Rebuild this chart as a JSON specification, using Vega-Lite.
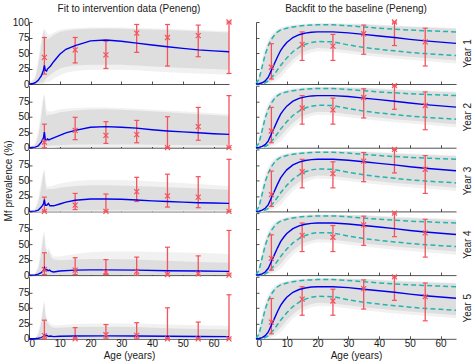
{
"$schema":"https://vega.github.io/schema/vega-lite/v6.json",
"background":"white",
"padding":{"left":3,"top":4,"right":3,"bottom":2},
"columns":2,
"spacing":{"row":1.7,"column":27},
"bounds":"flush",
"config":{
 "view":{"stroke":null},
 "font":"Liberation Sans",
 "axis":{"grid":false,"tickSize":-3,"domainColor":"#262626","tickColor":"#262626","domainWidth":0.8,"tickWidth":0.8,"labelFontSize":10,"labelColor":"#1a1a1a","labelPadding":3,"titleFontSize":10,"titleFontWeight":"normal","titleColor":"#1a1a1a","labelFont":"Liberation Sans","titleFont":"Liberation Sans"},
 "title":{"fontSize":10,"fontWeight":"normal","font":"Liberation Sans","color":"#1a1a1a","offset":3},
 "point":{"filled":false,"opacity":1,"color":"#f4525c","strokeWidth":1.2},
 "rule":{"stroke":"#f4525c","strokeWidth":1.3}
},
"datasets":{
"band":[
{"p":"L1","age":0,"lo":0,"hi":0,"lo2":0,"hi2":0},{"p":"L1","age":2,"lo":0,"hi":8,"lo2":0,"hi2":12},{"p":"L1","age":3,"lo":1,"hi":30,"lo2":0,"hi2":40},{"p":"L1","age":4,"lo":2,"hi":62,"lo2":0,"hi2":72},{"p":"L1","age":4.6,"lo":3,"hi":82,"lo2":0,"hi2":87},{"p":"L1","age":5,"lo":5,"hi":87,"lo2":1,"hi2":89},{"p":"L1","age":5.4,"lo":8,"hi":76,"lo2":2,"hi2":86},{"p":"L1","age":6,"lo":11,"hi":72,"lo2":3,"hi2":80},{"p":"L1","age":7,"lo":15,"hi":75,"lo2":5,"hi2":80},{"p":"L1","age":8,"lo":19,"hi":79,"lo2":9,"hi2":83},{"p":"L1","age":10,"lo":25,"hi":84,"lo2":14,"hi2":87},{"p":"L1","age":12,"lo":28,"hi":86,"lo2":18,"hi2":89},{"p":"L1","age":15,"lo":30,"hi":88,"lo2":21,"hi2":90},{"p":"L1","age":20,"lo":31,"hi":89,"lo2":23,"hi2":91},{"p":"L1","age":25,"lo":31,"hi":89.5,"lo2":23,"hi2":91},{"p":"L1","age":30,"lo":31,"hi":89,"lo2":23,"hi2":91},{"p":"L1","age":35,"lo":30,"hi":88.5,"lo2":22,"hi2":90.5},{"p":"L1","age":45,"lo":27,"hi":87,"lo2":19,"hi2":89},{"p":"L1","age":55,"lo":25,"hi":85,"lo2":17,"hi2":87},{"p":"L1","age":65,"lo":23,"hi":83,"lo2":15,"hi2":85},
{"p":"L2","age":0,"lo":0,"hi":0,"lo2":0,"hi2":0},{"p":"L2","age":2,"lo":0,"hi":4,"lo2":0,"hi2":8},{"p":"L2","age":3,"lo":0,"hi":18,"lo2":0,"hi2":28},{"p":"L2","age":4,"lo":0,"hi":48,"lo2":0,"hi2":62},{"p":"L2","age":4.6,"lo":1,"hi":74,"lo2":0,"hi2":82},{"p":"L2","age":5,"lo":2,"hi":85,"lo2":0,"hi2":88},{"p":"L2","age":5.3,"lo":2,"hi":62,"lo2":0,"hi2":75},{"p":"L2","age":5.7,"lo":2,"hi":50,"lo2":0,"hi2":62},{"p":"L2","age":6,"lo":3,"hi":53,"lo2":0,"hi2":60},{"p":"L2","age":7,"lo":3,"hi":53,"lo2":0,"hi2":58},{"p":"L2","age":8,"lo":4,"hi":54,"lo2":0,"hi2":59},{"p":"L2","age":10,"lo":4,"hi":57,"lo2":1,"hi2":62},{"p":"L2","age":15,"lo":5,"hi":60,"lo2":1,"hi2":64},{"p":"L2","age":20,"lo":5,"hi":61.5,"lo2":1,"hi2":65},{"p":"L2","age":25,"lo":5,"hi":62,"lo2":1,"hi2":65},{"p":"L2","age":35,"lo":5,"hi":60,"lo2":1,"hi2":63},{"p":"L2","age":45,"lo":4.5,"hi":57,"lo2":1,"hi2":60},{"p":"L2","age":55,"lo":4,"hi":54,"lo2":1,"hi2":57},{"p":"L2","age":65,"lo":4,"hi":51,"lo2":1,"hi2":54},
{"p":"L3","age":0,"lo":0,"hi":0,"lo2":0,"hi2":0},{"p":"L3","age":2,"lo":0,"hi":3,"lo2":0,"hi2":5},{"p":"L3","age":3,"lo":0,"hi":13,"lo2":0,"hi2":22},{"p":"L3","age":4,"lo":0,"hi":38,"lo2":0,"hi2":50},{"p":"L3","age":4.6,"lo":0,"hi":58,"lo2":0,"hi2":64},{"p":"L3","age":5,"lo":1,"hi":66,"lo2":0,"hi2":68},{"p":"L3","age":5.3,"lo":1,"hi":45,"lo2":0,"hi2":55},{"p":"L3","age":5.7,"lo":1,"hi":34,"lo2":0,"hi2":42},{"p":"L3","age":6,"lo":1,"hi":36,"lo2":0,"hi2":40},{"p":"L3","age":7,"lo":1,"hi":36,"lo2":0,"hi2":40},{"p":"L3","age":8,"lo":1,"hi":36,"lo2":0,"hi2":42},{"p":"L3","age":10,"lo":1.5,"hi":38,"lo2":0,"hi2":45},{"p":"L3","age":15,"lo":2,"hi":41,"lo2":0,"hi2":49},{"p":"L3","age":20,"lo":2,"hi":42,"lo2":0,"hi2":50.5},{"p":"L3","age":25,"lo":2,"hi":42,"lo2":0,"hi2":51},{"p":"L3","age":35,"lo":2,"hi":41,"lo2":0,"hi2":50},{"p":"L3","age":45,"lo":2,"hi":39,"lo2":0,"hi2":47},{"p":"L3","age":55,"lo":2,"hi":37,"lo2":0,"hi2":44},{"p":"L3","age":65,"lo":2,"hi":35,"lo2":0,"hi2":41},
{"p":"L4","age":0,"lo":0,"hi":0,"lo2":0,"hi2":0},{"p":"L4","age":2,"lo":0,"hi":2,"lo2":0,"hi2":3},{"p":"L4","age":3,"lo":0,"hi":10,"lo2":0,"hi2":16},{"p":"L4","age":4,"lo":0,"hi":35,"lo2":0,"hi2":48},{"p":"L4","age":4.6,"lo":0,"hi":58,"lo2":0,"hi2":66},{"p":"L4","age":5,"lo":0,"hi":66,"lo2":0,"hi2":72},{"p":"L4","age":5.3,"lo":0,"hi":45,"lo2":0,"hi2":52},{"p":"L4","age":5.7,"lo":0,"hi":38,"lo2":0,"hi2":45},{"p":"L4","age":6,"lo":0,"hi":34,"lo2":0,"hi2":40},{"p":"L4","age":6.5,"lo":0,"hi":40,"lo2":0,"hi2":44},{"p":"L4","age":7,"lo":0,"hi":30,"lo2":0,"hi2":36},{"p":"L4","age":8,"lo":0,"hi":25,"lo2":0,"hi2":30},{"p":"L4","age":10,"lo":0,"hi":24,"lo2":0,"hi2":30},{"p":"L4","age":15,"lo":0,"hi":25,"lo2":0,"hi2":34},{"p":"L4","age":20,"lo":0,"hi":26,"lo2":0,"hi2":37},{"p":"L4","age":25,"lo":0,"hi":26,"lo2":0,"hi2":38},{"p":"L4","age":35,"lo":0,"hi":25,"lo2":0,"hi2":38},{"p":"L4","age":45,"lo":0,"hi":23,"lo2":0,"hi2":37},{"p":"L4","age":55,"lo":0,"hi":21,"lo2":0,"hi2":36},{"p":"L4","age":65,"lo":0,"hi":20,"lo2":0,"hi2":34},
{"p":"L5","age":0,"lo":0,"hi":0,"lo2":0,"hi2":0},{"p":"L5","age":2,"lo":0,"hi":1,"lo2":0,"hi2":2},{"p":"L5","age":3,"lo":0,"hi":6,"lo2":0,"hi2":10},{"p":"L5","age":4,"lo":0,"hi":25,"lo2":0,"hi2":34},{"p":"L5","age":4.6,"lo":0,"hi":48,"lo2":0,"hi2":54},{"p":"L5","age":5,"lo":0,"hi":58,"lo2":0,"hi2":62},{"p":"L5","age":5.3,"lo":0,"hi":38,"lo2":0,"hi2":45},{"p":"L5","age":5.7,"lo":0,"hi":30,"lo2":0,"hi2":35},{"p":"L5","age":6,"lo":0,"hi":25,"lo2":0,"hi2":30},{"p":"L5","age":7,"lo":0,"hi":20,"lo2":0,"hi2":24},{"p":"L5","age":8,"lo":0,"hi":18,"lo2":0,"hi2":22},{"p":"L5","age":10,"lo":0,"hi":18,"lo2":0,"hi2":22},{"p":"L5","age":15,"lo":0,"hi":19,"lo2":0,"hi2":24},{"p":"L5","age":25,"lo":0,"hi":19.5,"lo2":0,"hi2":25},{"p":"L5","age":35,"lo":0,"hi":19,"lo2":0,"hi2":24.5},{"p":"L5","age":45,"lo":0,"hi":17,"lo2":0,"hi2":23},{"p":"L5","age":55,"lo":0,"hi":16,"lo2":0,"hi2":22},{"p":"L5","age":65,"lo":0,"hi":15,"lo2":0,"hi2":21},
{"p":"R","age":0,"lo":0,"hi":0,"lo2":0,"hi2":0},{"p":"R","age":1,"lo":0,"hi":10,"lo2":0,"hi2":16},{"p":"R","age":2,"lo":0,"hi":32,"lo2":0,"hi2":42},{"p":"R","age":3,"lo":1,"hi":52,"lo2":0,"hi2":60},{"p":"R","age":4,"lo":3,"hi":66,"lo2":1,"hi2":72},{"p":"R","age":5,"lo":5,"hi":76,"lo2":2,"hi2":80},{"p":"R","age":6,"lo":9,"hi":82,"lo2":4,"hi2":86},{"p":"R","age":8,"lo":18,"hi":89,"lo2":10,"hi2":91},{"p":"R","age":10,"lo":30,"hi":92,"lo2":22,"hi2":94},{"p":"R","age":12,"lo":40,"hi":94,"lo2":33,"hi2":95.5},{"p":"R","age":15,"lo":51,"hi":95.5,"lo2":45,"hi2":97},{"p":"R","age":18,"lo":56,"hi":96.5,"lo2":51,"hi2":98},{"p":"R","age":20,"lo":58,"hi":97,"lo2":53,"hi2":98},{"p":"R","age":25,"lo":57,"hi":97,"lo2":52,"hi2":98},{"p":"R","age":30,"lo":54,"hi":96.5,"lo2":49,"hi2":97.5},{"p":"R","age":35,"lo":51,"hi":96,"lo2":46,"hi2":97},{"p":"R","age":45,"lo":46,"hi":93,"lo2":41,"hi2":94.5},{"p":"R","age":55,"lo":42,"hi":91,"lo2":37,"hi2":92.5},{"p":"R","age":65,"lo":38,"hi":89,"lo2":33,"hi2":90.5}
],
"mean":[
{"p":"L1","age":0,"v":0},{"p":"L1","age":1,"v":0.3},{"p":"L1","age":2,"v":2},{"p":"L1","age":3,"v":6},{"p":"L1","age":4,"v":13},{"p":"L1","age":4.7,"v":22},{"p":"L1","age":5,"v":30},{"p":"L1","age":5.3,"v":22},{"p":"L1","age":5.7,"v":21},{"p":"L1","age":6,"v":24},{"p":"L1","age":7,"v":29},{"p":"L1","age":8,"v":36},{"p":"L1","age":10,"v":48},{"p":"L1","age":12,"v":56},{"p":"L1","age":15,"v":62},{"p":"L1","age":20,"v":69.5},{"p":"L1","age":25,"v":71},{"p":"L1","age":30,"v":69},{"p":"L1","age":35,"v":66},{"p":"L1","age":40,"v":63},{"p":"L1","age":45,"v":60},{"p":"L1","age":50,"v":57.5},{"p":"L1","age":55,"v":55},{"p":"L1","age":60,"v":53.5},{"p":"L1","age":65,"v":52},
{"p":"L2","age":0,"v":0},{"p":"L2","age":2,"v":1},{"p":"L2","age":3,"v":3},{"p":"L2","age":4,"v":9},{"p":"L2","age":4.7,"v":16},{"p":"L2","age":5,"v":25},{"p":"L2","age":5.3,"v":13},{"p":"L2","age":5.7,"v":12},{"p":"L2","age":6,"v":14},{"p":"L2","age":6.5,"v":12.5},{"p":"L2","age":7,"v":14},{"p":"L2","age":8,"v":16},{"p":"L2","age":10,"v":20},{"p":"L2","age":12,"v":24},{"p":"L2","age":15,"v":28},{"p":"L2","age":20,"v":33},{"p":"L2","age":25,"v":34},{"p":"L2","age":30,"v":33},{"p":"L2","age":35,"v":31.5},{"p":"L2","age":40,"v":29},{"p":"L2","age":45,"v":27},{"p":"L2","age":50,"v":25.5},{"p":"L2","age":55,"v":24},{"p":"L2","age":60,"v":22.5},{"p":"L2","age":65,"v":21.5},
{"p":"L3","age":0,"v":0},{"p":"L3","age":2,"v":0.5},{"p":"L3","age":3,"v":2},{"p":"L3","age":4,"v":7},{"p":"L3","age":4.7,"v":12},{"p":"L3","age":5,"v":19},{"p":"L3","age":5.3,"v":10},{"p":"L3","age":5.8,"v":10},{"p":"L3","age":6.3,"v":13},{"p":"L3","age":6.8,"v":9},{"p":"L3","age":8,"v":9},{"p":"L3","age":10,"v":12},{"p":"L3","age":12,"v":15},{"p":"L3","age":15,"v":18},{"p":"L3","age":20,"v":20},{"p":"L3","age":25,"v":20},{"p":"L3","age":30,"v":19.5},{"p":"L3","age":35,"v":18.5},{"p":"L3","age":40,"v":17},{"p":"L3","age":45,"v":16},{"p":"L3","age":50,"v":15},{"p":"L3","age":55,"v":14},{"p":"L3","age":60,"v":13.5},{"p":"L3","age":65,"v":13},
{"p":"L4","age":0,"v":0},{"p":"L4","age":2,"v":0.3},{"p":"L4","age":3,"v":1.5},{"p":"L4","age":4,"v":4},{"p":"L4","age":4.7,"v":8},{"p":"L4","age":5,"v":12},{"p":"L4","age":5.3,"v":8},{"p":"L4","age":5.8,"v":9},{"p":"L4","age":6.2,"v":7},{"p":"L4","age":6.7,"v":8},{"p":"L4","age":7.2,"v":6},{"p":"L4","age":8,"v":5},{"p":"L4","age":10,"v":6.5},{"p":"L4","age":15,"v":8},{"p":"L4","age":20,"v":8.5},{"p":"L4","age":25,"v":8.5},{"p":"L4","age":35,"v":8},{"p":"L4","age":45,"v":7},{"p":"L4","age":55,"v":6.5},{"p":"L4","age":65,"v":6},
{"p":"L5","age":0,"v":0},{"p":"L5","age":2,"v":0.2},{"p":"L5","age":3,"v":0.8},{"p":"L5","age":4,"v":2},{"p":"L5","age":4.7,"v":4},{"p":"L5","age":5,"v":6.5},{"p":"L5","age":5.4,"v":4.5},{"p":"L5","age":5.8,"v":5.5},{"p":"L5","age":6.3,"v":4},{"p":"L5","age":7,"v":4.5},{"p":"L5","age":8,"v":3.5},{"p":"L5","age":10,"v":4},{"p":"L5","age":15,"v":4.5},{"p":"L5","age":25,"v":4.7},{"p":"L5","age":35,"v":4.5},{"p":"L5","age":45,"v":4},{"p":"L5","age":55,"v":3.8},{"p":"L5","age":65,"v":3.5},
{"p":"R","age":0,"v":0},{"p":"R","age":1,"v":0.5},{"p":"R","age":2,"v":2},{"p":"R","age":3,"v":5},{"p":"R","age":4,"v":11},{"p":"R","age":5,"v":22},{"p":"R","age":6,"v":33},{"p":"R","age":7,"v":44},{"p":"R","age":8,"v":54},{"p":"R","age":9,"v":61},{"p":"R","age":10,"v":67},{"p":"R","age":12,"v":75},{"p":"R","age":14,"v":79.5},{"p":"R","age":16,"v":82},{"p":"R","age":18,"v":83.5},{"p":"R","age":20,"v":84},{"p":"R","age":25,"v":84},{"p":"R","age":30,"v":82.5},{"p":"R","age":35,"v":80},{"p":"R","age":40,"v":77.5},{"p":"R","age":45,"v":75},{"p":"R","age":50,"v":72},{"p":"R","age":55,"v":69.5},{"p":"R","age":60,"v":67.5},{"p":"R","age":65,"v":65.5}
],
"ci":[
{"age":0,"lo":0,"hi":0},{"age":1,"lo":0,"hi":8},{"age":2,"lo":0.5,"hi":28},{"age":3,"lo":2,"hi":48},{"age":4,"lo":5,"hi":62},{"age":5,"lo":10,"hi":72},{"age":6,"lo":16,"hi":79},{"age":7,"lo":23,"hi":84},{"age":8,"lo":30,"hi":87},{"age":10,"lo":42,"hi":90},{"age":12,"lo":52,"hi":92},{"age":14,"lo":59,"hi":93.5},{"age":16,"lo":64,"hi":94.5},{"age":18,"lo":67,"hi":95},{"age":20,"lo":68.5,"hi":95.5},{"age":25,"lo":68,"hi":95.5},{"age":30,"lo":63,"hi":94},{"age":35,"lo":59,"hi":92},{"age":40,"lo":56,"hi":90},{"age":45,"lo":53.5,"hi":88.5},{"age":50,"lo":51,"hi":87},{"age":55,"lo":49,"hi":86},{"age":60,"lo":47.5,"hi":85},{"age":65,"lo":46,"hi":84}
],
"err":[
{"p":"L1","age":5,"v":43,"lo":16,"hi":75},{"p":"L1","age":15,"v":55,"lo":34,"hi":75},{"p":"L1","age":25,"v":47,"lo":25,"hi":69},{"p":"L1","age":35,"v":82,"lo":51,"hi":96},{"p":"L1","age":45,"v":75,"lo":29,"hi":96},{"p":"L1","age":55,"v":78,"lo":44,"hi":95},{"p":"L1","age":65,"v":100,"lo":17,"hi":100},
{"p":"L2","age":5,"v":9,"lo":0,"hi":38},{"p":"L2","age":15,"v":28,"lo":13,"hi":49},{"p":"L2","age":25,"v":20,"lo":7,"hi":42},{"p":"L2","age":35,"v":21,"lo":8,"hi":44},{"p":"L2","age":45,"v":0,"lo":0,"hi":50},{"p":"L2","age":55,"v":34,"lo":12,"hi":65},{"p":"L2","age":65,"v":0,"lo":0,"hi":84},
{"p":"L3","age":5,"v":0,"lo":0,"hi":23},{"p":"L3","age":15,"v":10,"lo":3,"hi":29},{"p":"L3","age":25,"v":0,"lo":0,"hi":28},{"p":"L3","age":35,"v":32,"lo":16,"hi":55},{"p":"L3","age":45,"v":25,"lo":7,"hi":60},{"p":"L3","age":55,"v":23,"lo":6,"hi":56},{"p":"L3","age":65,"v":0,"lo":0,"hi":84},
{"p":"L4","age":5,"v":9,"lo":1,"hi":36},{"p":"L4","age":15,"v":8,"lo":1,"hi":28},{"p":"L4","age":25,"v":5,"lo":1,"hi":25},{"p":"L4","age":35,"v":6,"lo":0,"hi":29},{"p":"L4","age":45,"v":1,"lo":0,"hi":45},{"p":"L4","age":55,"v":2,"lo":0,"hi":31},{"p":"L4","age":65,"v":0,"lo":0,"hi":72},
{"p":"L5","age":5,"v":5,"lo":0,"hi":30},{"p":"L5","age":15,"v":0,"lo":0,"hi":18},{"p":"L5","age":25,"v":6.5,"lo":1,"hi":23},{"p":"L5","age":35,"v":5.5,"lo":0,"hi":26},{"p":"L5","age":45,"v":0,"lo":0,"hi":50},{"p":"L5","age":55,"v":0,"lo":0,"hi":27},{"p":"L5","age":65,"v":0,"lo":0,"hi":71},
{"p":"R","age":5,"v":27,"lo":8,"hi":65},{"p":"R","age":15,"v":64,"lo":38,"hi":84},{"p":"R","age":25,"v":61,"lo":38,"hi":80},{"p":"R","age":35,"v":81,"lo":48,"hi":95},{"p":"R","age":45,"v":100,"lo":62,"hi":100},{"p":"R","age":55,"v":68,"lo":29,"hi":90}
]
},
"concat":[
{"width":200,"height":62,"title":{"text":"Fit to intervention data (Peneng)"},"resolve":{"axis":{"x":"independent","y":"independent"}},
"layer":[
{"data":{"name":"band"},"transform":[{"filter":"datum.p=='L1'"}],"mark":{"type":"area","color":"#f1f1f1"},"encoding":{"x":{"field":"age","type":"quantitative","scale":{"domain":[0,65],"nice":false},"axis":null},"y":{"field":"lo2","type":"quantitative","scale":{"domain":[0,100],"nice":false},"axis":null},"y2":{"field":"hi2"}}},
{"data":{"name":"band"},"transform":[{"filter":"datum.p=='L1'"}],"mark":{"type":"area","color":"#dedede"},"encoding":{"x":{"field":"age","type":"quantitative","axis":{"values":[0,10,20,30,40,50,60],"labels":false,"title":null}},"y":{"field":"lo","type":"quantitative","axis":{"values":[0,25,50,75,100],"title":null}},"y2":{"field":"hi"}}},
{"data":{"name":"err"},"transform":[{"filter":"datum.p=='L1'"}],"mark":{"type":"rule"},"encoding":{"x":{"field":"age","type":"quantitative","axis":null},"y":{"field":"lo","type":"quantitative","axis":null},"y2":{"field":"hi"}}},
{"data":{"name":"err"},"transform":[{"filter":"datum.p=='L1'"}],"mark":{"type":"point","shape":"M-1,0L1,0","size":25},"encoding":{"x":{"field":"age","type":"quantitative","axis":null},"y":{"field":"lo","type":"quantitative","axis":null}}},
{"data":{"name":"err"},"transform":[{"filter":"datum.p=='L1'"}],"mark":{"type":"point","shape":"M-1,0L1,0","size":25},"encoding":{"x":{"field":"age","type":"quantitative","axis":null},"y":{"field":"hi","type":"quantitative","axis":null}}},
{"data":{"name":"mean"},"transform":[{"filter":"datum.p=='L1'"}],"mark":{"type":"line","color":"#0000ee","strokeWidth":1.4},"encoding":{"x":{"field":"age","type":"quantitative","axis":null},"y":{"field":"v","type":"quantitative","axis":null}}},
{"data":{"name":"err"},"transform":[{"filter":"datum.p=='L1'"}],"mark":{"type":"point","shape":"M-1,-1L1,1M-1,1L1,-1","size":25},"encoding":{"x":{"field":"age","type":"quantitative","axis":null},"y":{"field":"v","type":"quantitative","axis":null}}}
]},
{"width":200,"height":62,"title":{"text":"Backfit to the baseline (Peneng)"},"resolve":{"axis":{"x":"independent","y":"independent"}},
"layer":[
{"data":{"name":"band"},"transform":[{"filter":"datum.p=='R'"}],"mark":{"type":"area","color":"#f1f1f1"},"encoding":{"x":{"field":"age","type":"quantitative","scale":{"domain":[0,65],"nice":false},"axis":null},"y":{"field":"lo2","type":"quantitative","scale":{"domain":[0,100],"nice":false},"axis":null},"y2":{"field":"hi2"}}},
{"data":{"name":"band"},"transform":[{"filter":"datum.p=='R'"}],"mark":{"type":"area","color":"#dedede"},"encoding":{"x":{"field":"age","type":"quantitative","axis":{"values":[0,10,20,30,40,50,60],"labels":false,"title":null}},"y":{"field":"lo","type":"quantitative","axis":{"values":[0,25,50,75,100],"labels":false,"title":null}},"y2":{"field":"hi"}}},
{"data":{"name":"ci"},"mark":{"type":"line","color":"#22b5b0","strokeWidth":1.5,"strokeDash":[5,3]},"encoding":{"x":{"field":"age","type":"quantitative","axis":null},"y":{"field":"hi","type":"quantitative","axis":null}}},
{"data":{"name":"ci"},"mark":{"type":"line","color":"#22b5b0","strokeWidth":1.5,"strokeDash":[5,3]},"encoding":{"x":{"field":"age","type":"quantitative","axis":null},"y":{"field":"lo","type":"quantitative","axis":{"orient":"right","title":"Year 1","labels":false,"ticks":false,"domain":false,"titleAngle":270,"titleBaseline":"top","titlePadding":6}}}},
{"data":{"name":"err"},"transform":[{"filter":"datum.p=='R'"}],"mark":{"type":"rule"},"encoding":{"x":{"field":"age","type":"quantitative","axis":null},"y":{"field":"lo","type":"quantitative","axis":null},"y2":{"field":"hi"}}},
{"data":{"name":"err"},"transform":[{"filter":"datum.p=='R'"}],"mark":{"type":"point","shape":"M-1,0L1,0","size":25},"encoding":{"x":{"field":"age","type":"quantitative","axis":null},"y":{"field":"lo","type":"quantitative","axis":null}}},
{"data":{"name":"err"},"transform":[{"filter":"datum.p=='R'"}],"mark":{"type":"point","shape":"M-1,0L1,0","size":25},"encoding":{"x":{"field":"age","type":"quantitative","axis":null},"y":{"field":"hi","type":"quantitative","axis":null}}},
{"data":{"name":"mean"},"transform":[{"filter":"datum.p=='R'"}],"mark":{"type":"line","color":"#0000ee","strokeWidth":1.4},"encoding":{"x":{"field":"age","type":"quantitative","axis":null},"y":{"field":"v","type":"quantitative","axis":null}}},
{"data":{"name":"err"},"transform":[{"filter":"datum.p=='R'"}],"mark":{"type":"point","shape":"M-1,-1L1,1M-1,1L1,-1","size":25},"encoding":{"x":{"field":"age","type":"quantitative","axis":null},"y":{"field":"v","type":"quantitative","axis":null}}}
]},
{"width":200,"height":62,"resolve":{"axis":{"x":"independent","y":"independent"}},
"layer":[
{"data":{"name":"band"},"transform":[{"filter":"datum.p=='L2'"}],"mark":{"type":"area","color":"#f1f1f1"},"encoding":{"x":{"field":"age","type":"quantitative","scale":{"domain":[0,65],"nice":false},"axis":null},"y":{"field":"lo2","type":"quantitative","scale":{"domain":[0,100],"nice":false},"axis":null},"y2":{"field":"hi2"}}},
{"data":{"name":"band"},"transform":[{"filter":"datum.p=='L2'"}],"mark":{"type":"area","color":"#dedede"},"encoding":{"x":{"field":"age","type":"quantitative","axis":{"values":[0,10,20,30,40,50,60],"labels":false,"title":null}},"y":{"field":"lo","type":"quantitative","axis":{"values":[0,25,50,75],"title":null}},"y2":{"field":"hi"}}},
{"data":{"name":"err"},"transform":[{"filter":"datum.p=='L2'"}],"mark":{"type":"rule"},"encoding":{"x":{"field":"age","type":"quantitative","axis":null},"y":{"field":"lo","type":"quantitative","axis":null},"y2":{"field":"hi"}}},
{"data":{"name":"err"},"transform":[{"filter":"datum.p=='L2'"}],"mark":{"type":"point","shape":"M-1,0L1,0","size":25},"encoding":{"x":{"field":"age","type":"quantitative","axis":null},"y":{"field":"lo","type":"quantitative","axis":null}}},
{"data":{"name":"err"},"transform":[{"filter":"datum.p=='L2'"}],"mark":{"type":"point","shape":"M-1,0L1,0","size":25},"encoding":{"x":{"field":"age","type":"quantitative","axis":null},"y":{"field":"hi","type":"quantitative","axis":null}}},
{"data":{"name":"mean"},"transform":[{"filter":"datum.p=='L2'"}],"mark":{"type":"line","color":"#0000ee","strokeWidth":1.4},"encoding":{"x":{"field":"age","type":"quantitative","axis":null},"y":{"field":"v","type":"quantitative","axis":null}}},
{"data":{"name":"err"},"transform":[{"filter":"datum.p=='L2'"}],"mark":{"type":"point","shape":"M-1,-1L1,1M-1,1L1,-1","size":25},"encoding":{"x":{"field":"age","type":"quantitative","axis":null},"y":{"field":"v","type":"quantitative","axis":null}}}
]},
{"width":200,"height":62,"resolve":{"axis":{"x":"independent","y":"independent"}},
"layer":[
{"data":{"name":"band"},"transform":[{"filter":"datum.p=='R'"}],"mark":{"type":"area","color":"#f1f1f1"},"encoding":{"x":{"field":"age","type":"quantitative","scale":{"domain":[0,65],"nice":false},"axis":null},"y":{"field":"lo2","type":"quantitative","scale":{"domain":[0,100],"nice":false},"axis":null},"y2":{"field":"hi2"}}},
{"data":{"name":"band"},"transform":[{"filter":"datum.p=='R'"}],"mark":{"type":"area","color":"#dedede"},"encoding":{"x":{"field":"age","type":"quantitative","axis":{"values":[0,10,20,30,40,50,60],"labels":false,"title":null}},"y":{"field":"lo","type":"quantitative","axis":{"values":[0,25,50,75,100],"labels":false,"title":null}},"y2":{"field":"hi"}}},
{"data":{"name":"ci"},"mark":{"type":"line","color":"#22b5b0","strokeWidth":1.5,"strokeDash":[5,3]},"encoding":{"x":{"field":"age","type":"quantitative","axis":null},"y":{"field":"hi","type":"quantitative","axis":null}}},
{"data":{"name":"ci"},"mark":{"type":"line","color":"#22b5b0","strokeWidth":1.5,"strokeDash":[5,3]},"encoding":{"x":{"field":"age","type":"quantitative","axis":null},"y":{"field":"lo","type":"quantitative","axis":{"orient":"right","title":"Year 2","labels":false,"ticks":false,"domain":false,"titleAngle":270,"titleBaseline":"top","titlePadding":6}}}},
{"data":{"name":"err"},"transform":[{"filter":"datum.p=='R'"}],"mark":{"type":"rule"},"encoding":{"x":{"field":"age","type":"quantitative","axis":null},"y":{"field":"lo","type":"quantitative","axis":null},"y2":{"field":"hi"}}},
{"data":{"name":"err"},"transform":[{"filter":"datum.p=='R'"}],"mark":{"type":"point","shape":"M-1,0L1,0","size":25},"encoding":{"x":{"field":"age","type":"quantitative","axis":null},"y":{"field":"lo","type":"quantitative","axis":null}}},
{"data":{"name":"err"},"transform":[{"filter":"datum.p=='R'"}],"mark":{"type":"point","shape":"M-1,0L1,0","size":25},"encoding":{"x":{"field":"age","type":"quantitative","axis":null},"y":{"field":"hi","type":"quantitative","axis":null}}},
{"data":{"name":"mean"},"transform":[{"filter":"datum.p=='R'"}],"mark":{"type":"line","color":"#0000ee","strokeWidth":1.4},"encoding":{"x":{"field":"age","type":"quantitative","axis":null},"y":{"field":"v","type":"quantitative","axis":null}}},
{"data":{"name":"err"},"transform":[{"filter":"datum.p=='R'"}],"mark":{"type":"point","shape":"M-1,-1L1,1M-1,1L1,-1","size":25},"encoding":{"x":{"field":"age","type":"quantitative","axis":null},"y":{"field":"v","type":"quantitative","axis":null}}}
]},
{"width":200,"height":62,"resolve":{"axis":{"x":"independent","y":"independent"}},
"layer":[
{"data":{"name":"band"},"transform":[{"filter":"datum.p=='L3'"}],"mark":{"type":"area","color":"#f1f1f1"},"encoding":{"x":{"field":"age","type":"quantitative","scale":{"domain":[0,65],"nice":false},"axis":null},"y":{"field":"lo2","type":"quantitative","scale":{"domain":[0,100],"nice":false},"axis":null},"y2":{"field":"hi2"}}},
{"data":{"name":"band"},"transform":[{"filter":"datum.p=='L3'"}],"mark":{"type":"area","color":"#dedede"},"encoding":{"x":{"field":"age","type":"quantitative","axis":{"values":[0,10,20,30,40,50,60],"labels":false,"title":null}},"y":{"field":"lo","type":"quantitative","axis":{"values":[0,25,50,75],"title":"Mf prevalence (%)","titlePadding":4}},"y2":{"field":"hi"}}},
{"data":{"name":"err"},"transform":[{"filter":"datum.p=='L3'"}],"mark":{"type":"rule"},"encoding":{"x":{"field":"age","type":"quantitative","axis":null},"y":{"field":"lo","type":"quantitative","axis":null},"y2":{"field":"hi"}}},
{"data":{"name":"err"},"transform":[{"filter":"datum.p=='L3'"}],"mark":{"type":"point","shape":"M-1,0L1,0","size":25},"encoding":{"x":{"field":"age","type":"quantitative","axis":null},"y":{"field":"lo","type":"quantitative","axis":null}}},
{"data":{"name":"err"},"transform":[{"filter":"datum.p=='L3'"}],"mark":{"type":"point","shape":"M-1,0L1,0","size":25},"encoding":{"x":{"field":"age","type":"quantitative","axis":null},"y":{"field":"hi","type":"quantitative","axis":null}}},
{"data":{"name":"mean"},"transform":[{"filter":"datum.p=='L3'"}],"mark":{"type":"line","color":"#0000ee","strokeWidth":1.4},"encoding":{"x":{"field":"age","type":"quantitative","axis":null},"y":{"field":"v","type":"quantitative","axis":null}}},
{"data":{"name":"err"},"transform":[{"filter":"datum.p=='L3'"}],"mark":{"type":"point","shape":"M-1,-1L1,1M-1,1L1,-1","size":25},"encoding":{"x":{"field":"age","type":"quantitative","axis":null},"y":{"field":"v","type":"quantitative","axis":null}}}
]},
{"width":200,"height":62,"resolve":{"axis":{"x":"independent","y":"independent"}},
"layer":[
{"data":{"name":"band"},"transform":[{"filter":"datum.p=='R'"}],"mark":{"type":"area","color":"#f1f1f1"},"encoding":{"x":{"field":"age","type":"quantitative","scale":{"domain":[0,65],"nice":false},"axis":null},"y":{"field":"lo2","type":"quantitative","scale":{"domain":[0,100],"nice":false},"axis":null},"y2":{"field":"hi2"}}},
{"data":{"name":"band"},"transform":[{"filter":"datum.p=='R'"}],"mark":{"type":"area","color":"#dedede"},"encoding":{"x":{"field":"age","type":"quantitative","axis":{"values":[0,10,20,30,40,50,60],"labels":false,"title":null}},"y":{"field":"lo","type":"quantitative","axis":{"values":[0,25,50,75,100],"labels":false,"title":null}},"y2":{"field":"hi"}}},
{"data":{"name":"ci"},"mark":{"type":"line","color":"#22b5b0","strokeWidth":1.5,"strokeDash":[5,3]},"encoding":{"x":{"field":"age","type":"quantitative","axis":null},"y":{"field":"hi","type":"quantitative","axis":null}}},
{"data":{"name":"ci"},"mark":{"type":"line","color":"#22b5b0","strokeWidth":1.5,"strokeDash":[5,3]},"encoding":{"x":{"field":"age","type":"quantitative","axis":null},"y":{"field":"lo","type":"quantitative","axis":{"orient":"right","title":"Year 3","labels":false,"ticks":false,"domain":false,"titleAngle":270,"titleBaseline":"top","titlePadding":6}}}},
{"data":{"name":"err"},"transform":[{"filter":"datum.p=='R'"}],"mark":{"type":"rule"},"encoding":{"x":{"field":"age","type":"quantitative","axis":null},"y":{"field":"lo","type":"quantitative","axis":null},"y2":{"field":"hi"}}},
{"data":{"name":"err"},"transform":[{"filter":"datum.p=='R'"}],"mark":{"type":"point","shape":"M-1,0L1,0","size":25},"encoding":{"x":{"field":"age","type":"quantitative","axis":null},"y":{"field":"lo","type":"quantitative","axis":null}}},
{"data":{"name":"err"},"transform":[{"filter":"datum.p=='R'"}],"mark":{"type":"point","shape":"M-1,0L1,0","size":25},"encoding":{"x":{"field":"age","type":"quantitative","axis":null},"y":{"field":"hi","type":"quantitative","axis":null}}},
{"data":{"name":"mean"},"transform":[{"filter":"datum.p=='R'"}],"mark":{"type":"line","color":"#0000ee","strokeWidth":1.4},"encoding":{"x":{"field":"age","type":"quantitative","axis":null},"y":{"field":"v","type":"quantitative","axis":null}}},
{"data":{"name":"err"},"transform":[{"filter":"datum.p=='R'"}],"mark":{"type":"point","shape":"M-1,-1L1,1M-1,1L1,-1","size":25},"encoding":{"x":{"field":"age","type":"quantitative","axis":null},"y":{"field":"v","type":"quantitative","axis":null}}}
]},
{"width":200,"height":62,"resolve":{"axis":{"x":"independent","y":"independent"}},
"layer":[
{"data":{"name":"band"},"transform":[{"filter":"datum.p=='L4'"}],"mark":{"type":"area","color":"#f1f1f1"},"encoding":{"x":{"field":"age","type":"quantitative","scale":{"domain":[0,65],"nice":false},"axis":null},"y":{"field":"lo2","type":"quantitative","scale":{"domain":[0,100],"nice":false},"axis":null},"y2":{"field":"hi2"}}},
{"data":{"name":"band"},"transform":[{"filter":"datum.p=='L4'"}],"mark":{"type":"area","color":"#dedede"},"encoding":{"x":{"field":"age","type":"quantitative","axis":{"values":[0,10,20,30,40,50,60],"labels":false,"title":null}},"y":{"field":"lo","type":"quantitative","axis":{"values":[0,25,50,75],"title":null}},"y2":{"field":"hi"}}},
{"data":{"name":"err"},"transform":[{"filter":"datum.p=='L4'"}],"mark":{"type":"rule"},"encoding":{"x":{"field":"age","type":"quantitative","axis":null},"y":{"field":"lo","type":"quantitative","axis":null},"y2":{"field":"hi"}}},
{"data":{"name":"err"},"transform":[{"filter":"datum.p=='L4'"}],"mark":{"type":"point","shape":"M-1,0L1,0","size":25},"encoding":{"x":{"field":"age","type":"quantitative","axis":null},"y":{"field":"lo","type":"quantitative","axis":null}}},
{"data":{"name":"err"},"transform":[{"filter":"datum.p=='L4'"}],"mark":{"type":"point","shape":"M-1,0L1,0","size":25},"encoding":{"x":{"field":"age","type":"quantitative","axis":null},"y":{"field":"hi","type":"quantitative","axis":null}}},
{"data":{"name":"mean"},"transform":[{"filter":"datum.p=='L4'"}],"mark":{"type":"line","color":"#0000ee","strokeWidth":1.4},"encoding":{"x":{"field":"age","type":"quantitative","axis":null},"y":{"field":"v","type":"quantitative","axis":null}}},
{"data":{"name":"err"},"transform":[{"filter":"datum.p=='L4'"}],"mark":{"type":"point","shape":"M-1,-1L1,1M-1,1L1,-1","size":25},"encoding":{"x":{"field":"age","type":"quantitative","axis":null},"y":{"field":"v","type":"quantitative","axis":null}}}
]},
{"width":200,"height":62,"resolve":{"axis":{"x":"independent","y":"independent"}},
"layer":[
{"data":{"name":"band"},"transform":[{"filter":"datum.p=='R'"}],"mark":{"type":"area","color":"#f1f1f1"},"encoding":{"x":{"field":"age","type":"quantitative","scale":{"domain":[0,65],"nice":false},"axis":null},"y":{"field":"lo2","type":"quantitative","scale":{"domain":[0,100],"nice":false},"axis":null},"y2":{"field":"hi2"}}},
{"data":{"name":"band"},"transform":[{"filter":"datum.p=='R'"}],"mark":{"type":"area","color":"#dedede"},"encoding":{"x":{"field":"age","type":"quantitative","axis":{"values":[0,10,20,30,40,50,60],"labels":false,"title":null}},"y":{"field":"lo","type":"quantitative","axis":{"values":[0,25,50,75,100],"labels":false,"title":null}},"y2":{"field":"hi"}}},
{"data":{"name":"ci"},"mark":{"type":"line","color":"#22b5b0","strokeWidth":1.5,"strokeDash":[5,3]},"encoding":{"x":{"field":"age","type":"quantitative","axis":null},"y":{"field":"hi","type":"quantitative","axis":null}}},
{"data":{"name":"ci"},"mark":{"type":"line","color":"#22b5b0","strokeWidth":1.5,"strokeDash":[5,3]},"encoding":{"x":{"field":"age","type":"quantitative","axis":null},"y":{"field":"lo","type":"quantitative","axis":{"orient":"right","title":"Year 4","labels":false,"ticks":false,"domain":false,"titleAngle":270,"titleBaseline":"top","titlePadding":6}}}},
{"data":{"name":"err"},"transform":[{"filter":"datum.p=='R'"}],"mark":{"type":"rule"},"encoding":{"x":{"field":"age","type":"quantitative","axis":null},"y":{"field":"lo","type":"quantitative","axis":null},"y2":{"field":"hi"}}},
{"data":{"name":"err"},"transform":[{"filter":"datum.p=='R'"}],"mark":{"type":"point","shape":"M-1,0L1,0","size":25},"encoding":{"x":{"field":"age","type":"quantitative","axis":null},"y":{"field":"lo","type":"quantitative","axis":null}}},
{"data":{"name":"err"},"transform":[{"filter":"datum.p=='R'"}],"mark":{"type":"point","shape":"M-1,0L1,0","size":25},"encoding":{"x":{"field":"age","type":"quantitative","axis":null},"y":{"field":"hi","type":"quantitative","axis":null}}},
{"data":{"name":"mean"},"transform":[{"filter":"datum.p=='R'"}],"mark":{"type":"line","color":"#0000ee","strokeWidth":1.4},"encoding":{"x":{"field":"age","type":"quantitative","axis":null},"y":{"field":"v","type":"quantitative","axis":null}}},
{"data":{"name":"err"},"transform":[{"filter":"datum.p=='R'"}],"mark":{"type":"point","shape":"M-1,-1L1,1M-1,1L1,-1","size":25},"encoding":{"x":{"field":"age","type":"quantitative","axis":null},"y":{"field":"v","type":"quantitative","axis":null}}}
]},
{"width":200,"height":62,"resolve":{"axis":{"x":"independent","y":"independent"}},
"layer":[
{"data":{"name":"band"},"transform":[{"filter":"datum.p=='L5'"}],"mark":{"type":"area","color":"#f1f1f1"},"encoding":{"x":{"field":"age","type":"quantitative","scale":{"domain":[0,65],"nice":false},"axis":null},"y":{"field":"lo2","type":"quantitative","scale":{"domain":[0,100],"nice":false},"axis":null},"y2":{"field":"hi2"}}},
{"data":{"name":"band"},"transform":[{"filter":"datum.p=='L5'"}],"mark":{"type":"area","color":"#dedede"},"encoding":{"x":{"field":"age","type":"quantitative","axis":{"values":[0,10,20,30,40,50,60],"title":"Age (years)","titlePadding":2}},"y":{"field":"lo","type":"quantitative","axis":{"values":[0,25,50,75],"title":null}},"y2":{"field":"hi"}}},
{"data":{"name":"err"},"transform":[{"filter":"datum.p=='L5'"}],"mark":{"type":"rule"},"encoding":{"x":{"field":"age","type":"quantitative","axis":null},"y":{"field":"lo","type":"quantitative","axis":null},"y2":{"field":"hi"}}},
{"data":{"name":"err"},"transform":[{"filter":"datum.p=='L5'"}],"mark":{"type":"point","shape":"M-1,0L1,0","size":25},"encoding":{"x":{"field":"age","type":"quantitative","axis":null},"y":{"field":"lo","type":"quantitative","axis":null}}},
{"data":{"name":"err"},"transform":[{"filter":"datum.p=='L5'"}],"mark":{"type":"point","shape":"M-1,0L1,0","size":25},"encoding":{"x":{"field":"age","type":"quantitative","axis":null},"y":{"field":"hi","type":"quantitative","axis":null}}},
{"data":{"name":"mean"},"transform":[{"filter":"datum.p=='L5'"}],"mark":{"type":"line","color":"#0000ee","strokeWidth":1.4},"encoding":{"x":{"field":"age","type":"quantitative","axis":null},"y":{"field":"v","type":"quantitative","axis":null}}},
{"data":{"name":"err"},"transform":[{"filter":"datum.p=='L5'"}],"mark":{"type":"point","shape":"M-1,-1L1,1M-1,1L1,-1","size":25},"encoding":{"x":{"field":"age","type":"quantitative","axis":null},"y":{"field":"v","type":"quantitative","axis":null}}}
]},
{"width":200,"height":62,"resolve":{"axis":{"x":"independent","y":"independent"}},
"layer":[
{"data":{"name":"band"},"transform":[{"filter":"datum.p=='R'"}],"mark":{"type":"area","color":"#f1f1f1"},"encoding":{"x":{"field":"age","type":"quantitative","scale":{"domain":[0,65],"nice":false},"axis":null},"y":{"field":"lo2","type":"quantitative","scale":{"domain":[0,100],"nice":false},"axis":null},"y2":{"field":"hi2"}}},
{"data":{"name":"band"},"transform":[{"filter":"datum.p=='R'"}],"mark":{"type":"area","color":"#dedede"},"encoding":{"x":{"field":"age","type":"quantitative","axis":{"values":[0,10,20,30,40,50,60],"title":"Age (years)","titlePadding":2}},"y":{"field":"lo","type":"quantitative","axis":{"values":[0,25,50,75,100],"labels":false,"title":null}},"y2":{"field":"hi"}}},
{"data":{"name":"ci"},"mark":{"type":"line","color":"#22b5b0","strokeWidth":1.5,"strokeDash":[5,3]},"encoding":{"x":{"field":"age","type":"quantitative","axis":null},"y":{"field":"hi","type":"quantitative","axis":null}}},
{"data":{"name":"ci"},"mark":{"type":"line","color":"#22b5b0","strokeWidth":1.5,"strokeDash":[5,3]},"encoding":{"x":{"field":"age","type":"quantitative","axis":null},"y":{"field":"lo","type":"quantitative","axis":{"orient":"right","title":"Year 5","labels":false,"ticks":false,"domain":false,"titleAngle":270,"titleBaseline":"top","titlePadding":6}}}},
{"data":{"name":"err"},"transform":[{"filter":"datum.p=='R'"}],"mark":{"type":"rule"},"encoding":{"x":{"field":"age","type":"quantitative","axis":null},"y":{"field":"lo","type":"quantitative","axis":null},"y2":{"field":"hi"}}},
{"data":{"name":"err"},"transform":[{"filter":"datum.p=='R'"}],"mark":{"type":"point","shape":"M-1,0L1,0","size":25},"encoding":{"x":{"field":"age","type":"quantitative","axis":null},"y":{"field":"lo","type":"quantitative","axis":null}}},
{"data":{"name":"err"},"transform":[{"filter":"datum.p=='R'"}],"mark":{"type":"point","shape":"M-1,0L1,0","size":25},"encoding":{"x":{"field":"age","type":"quantitative","axis":null},"y":{"field":"hi","type":"quantitative","axis":null}}},
{"data":{"name":"mean"},"transform":[{"filter":"datum.p=='R'"}],"mark":{"type":"line","color":"#0000ee","strokeWidth":1.4},"encoding":{"x":{"field":"age","type":"quantitative","axis":null},"y":{"field":"v","type":"quantitative","axis":null}}},
{"data":{"name":"err"},"transform":[{"filter":"datum.p=='R'"}],"mark":{"type":"point","shape":"M-1,-1L1,1M-1,1L1,-1","size":25},"encoding":{"x":{"field":"age","type":"quantitative","axis":null},"y":{"field":"v","type":"quantitative","axis":null}}}
]}
]
}
